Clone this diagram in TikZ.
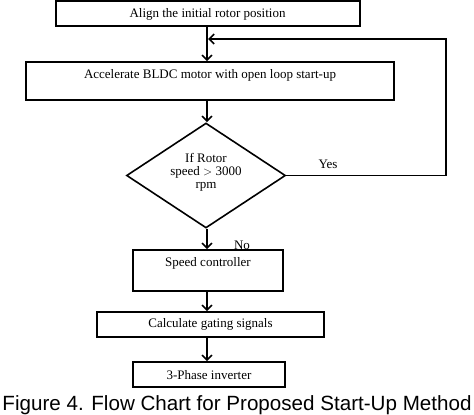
\documentclass[tikz,border=0pt]{standalone}
\usepackage{fontspec}
\setmainfont{Liberation Serif}
\newfontfamily\capfont{Liberation Sans}
\usetikzlibrary{arrows.meta,shapes.geometric}
\begin{document}
\begin{tikzpicture}[x=1pt,y=-1pt,
  box/.style={draw, line width=1.6pt, inner sep=0pt},
  txt/.style={font=\fontsize{13}{13}\selectfont, inner sep=0pt, align=center},
  arr/.style={line width=1.6pt, -{Straight Barb[length=5pt,width=10pt,line width=1.6pt]}},
  ln/.style={line width=1.6pt}]
\useasboundingbox (0,0) rectangle (474,415);
\clip (0,0) rectangle (474,415);
\coordinate (spine) at (207,0);
% boxes
\node[box, minimum width=304pt, minimum height=25pt] (align) at (208,13.5) {};
\node[txt] (talign) at (207.5,14) {Align the initial rotor position};
\node[box, minimum width=368pt, minimum height=38pt] (accel) at (210,81) {};
\node[txt] (taccel) at (210,75) {Accelerate BLDC motor with open loop start-up};
\node[draw, diamond, line width=1.6pt, inner sep=0pt, minimum width=159pt, minimum height=105pt] (dia) at (206,175.5) {};
\node[txt] (tdia) at (206,172) {If Rotor\\speed $>$ 3000\\rpm};
\node[box, minimum width=150pt, minimum height=41pt] (speed) at (208,270.5) {};
\node[txt] (tspeed) at (208,263) {Speed controller};
\node[box, minimum width=227pt, minimum height=25pt] (calc) at (210.5,324.5) {};
\node[txt] (tcalc) at (210.5,324) {Calculate gating signals};
\node[box, minimum width=152pt, minimum height=25pt] (inv) at (209,374.5) {};
\node[txt] (tinv) at (209,375) {3-Phase inverter};
% labels
\node[txt] (yes) at (328,164) {Yes};
\node[txt] (no) at (242,245) {No};
% connectors
\draw[arr] (align.south -| spine) -- (accel.north -| spine);
\draw[arr] (accel.south -| spine) -- (dia.north -| spine);
\draw[arr] (dia.south -| spine) -- (speed.north -| spine);
\draw[arr] (speed.south -| spine) -- (calc.north -| spine);
\draw[arr] (calc.south -| spine) -- (inv.north -| spine);
\coordinate (corner) at (446,39);
\coordinate (fb) at (208,39);
\draw[arr] (dia.east) -| (corner) -- (fb);
% caption
\node[font=\capfont\fontsize{20.6}{20.6}\selectfont, anchor=base, inner sep=0pt] (cap) at (237,410) {Figure 4. Flow Chart for Proposed Start-Up Method};
\end{tikzpicture}
\end{document}
